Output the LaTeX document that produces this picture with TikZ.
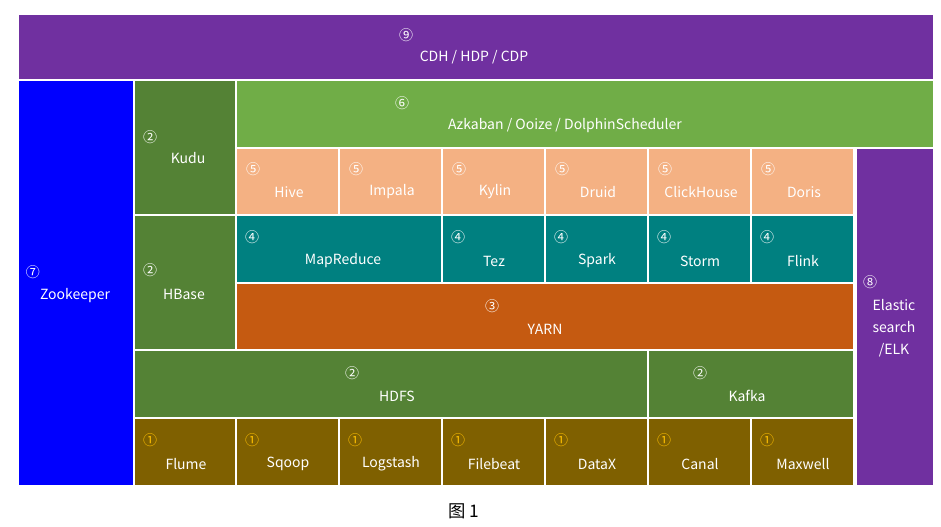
\documentclass[tikz,border=0pt]{standalone}
\usepackage{fontspec}
\setmainfont{Noto Sans CJK SC}
\definecolor{cpurple}{HTML}{7030A0}
\definecolor{cblue}{HTML}{0000FF}
\definecolor{cdgreen}{HTML}{548235}
\definecolor{clgreen}{HTML}{70AD47}
\definecolor{cpeach}{HTML}{F4B183}
\definecolor{cteal}{HTML}{008080}
\definecolor{corange}{HTML}{C55A11}
\definecolor{cbrown}{HTML}{7F6000}
\definecolor{cgold}{HTML}{FFC000}
\begin{document}
\begin{tikzpicture}[x=0.75pt,y=-0.75pt,
  box/.style={draw=white,line width=1.2pt},
  lab/.style={text=white,font=\fontsize{10.5}{12}\selectfont,inner sep=0pt},
  num/.style={text=white,font=\fontsize{10.5}{12}\selectfont,inner sep=0pt},
  gnum/.style={num,text=cgold}]
\useasboundingbox (0,0) rectangle (941,526);
\newcommand{\cellbox}[6]{\filldraw[box,fill=#6] (#2,#3) rectangle (#4,#5) coordinate (#1);}
% top
\cellbox{c9}{18}{14}{934}{80}{cpurple}
\node[num] (n9) at (406,35) {⑨};
\node[lab] (l9) at (474,57) {CDH / HDP / CDP};
% zookeeper
\cellbox{c7}{18}{80}{134}{486}{cblue}
\node[num] (n7) at (33,272) {⑦};
\node[lab] (l7) at (75,296) {Zookeeper};
% kudu hbase
\cellbox{ck}{134}{80}{236}{215}{cdgreen}
\node[num] (nk) at (150,137) {②};
\node[lab] (lk) at (188,158) {Kudu};
\cellbox{chb}{134}{215}{236}{350}{cdgreen}
\node[num] (nhb) at (150,270) {②};
\node[lab] (lhb) at (184,294) {HBase};
% azkaban
\cellbox{c6}{236}{80}{934}{148}{clgreen}
\node[num] (n6) at (402,103) {⑥};
\node[lab] (l6) at (565,126) {Azkaban / Ooize / DolphinScheduler};
% ELK
\cellbox{c8}{856}{148}{934}{486}{cpurple}
\node[num] (n8) at (870,282) {⑧};
\node[lab,align=center,font=\fontsize{10.5}{16.5}\selectfont] (l8) at (894,328) {Elastic\\search\\/ELK};
% row 5
\foreach \x/\t [count=\i] in {236/Hive,339/Impala,442/Kylin,545/Druid,648/ClickHouse,751/Doris}{
  \pgfmathsetmacro{\xx}{\x+103}
  \filldraw[box,fill=cpeach] (\x,148) rectangle (\xx,215);
  \node[num] (n5-\i) at (\x+17,169) {⑤};
  \node[lab] (l5-\i) at (\x+53,192) {\t};
}
% row 4
\cellbox{c4a}{236}{215}{442}{283}{cteal}
\node[num] (n4a) at (252,237) {④};
\node[lab] (l4a) at (343,261) {MapReduce};
\foreach \x/\t [count=\i] in {442/Tez,545/Spark,648/Storm,751/Flink}{
  \pgfmathsetmacro{\xx}{\x+103}
  \filldraw[box,fill=cteal] (\x,215) rectangle (\xx,283);
  \node[num] (n4-\i) at (\x+16,237) {④};
  \node[lab] (l4-\i) at (\x+52,261) {\t};
}
% yarn
\cellbox{c3}{236}{283}{854}{350}{corange}
\node[num] (n3) at (492,306) {③};
\node[lab] (l3) at (545,329) {YARN};
% hdfs kafka
\cellbox{c2h}{134}{350}{648}{418}{cdgreen}
\node[num] (n2h) at (352,373) {②};
\node[lab] (l2h) at (397,396) {HDFS};
\cellbox{c2k}{648}{350}{854}{418}{cdgreen}
\node[num] (n2k) at (700,373) {②};
\node[lab] (l2k) at (747,396) {Kafka};
% row 1
\foreach \x/\t [count=\i] in {134/Flume,236/Sqoop,339/Logstash,442/Filebeat,545/DataX,648/Canal,751/Maxwell}{
  \pgfmathsetmacro{\xx}{\x+103}
  \filldraw[box,fill=cbrown] (\x,418) rectangle (\xx,486);
  \node[gnum] (n1-\i) at (\x+16,440) {①};
  \node[lab] (l1-\i) at (\x+52,464) {\t};
}
\node[inner sep=0pt,font=\fontsize{13}{15}\selectfont] (cap) at (464,511) {图 1};
\end{tikzpicture}
\end{document}
